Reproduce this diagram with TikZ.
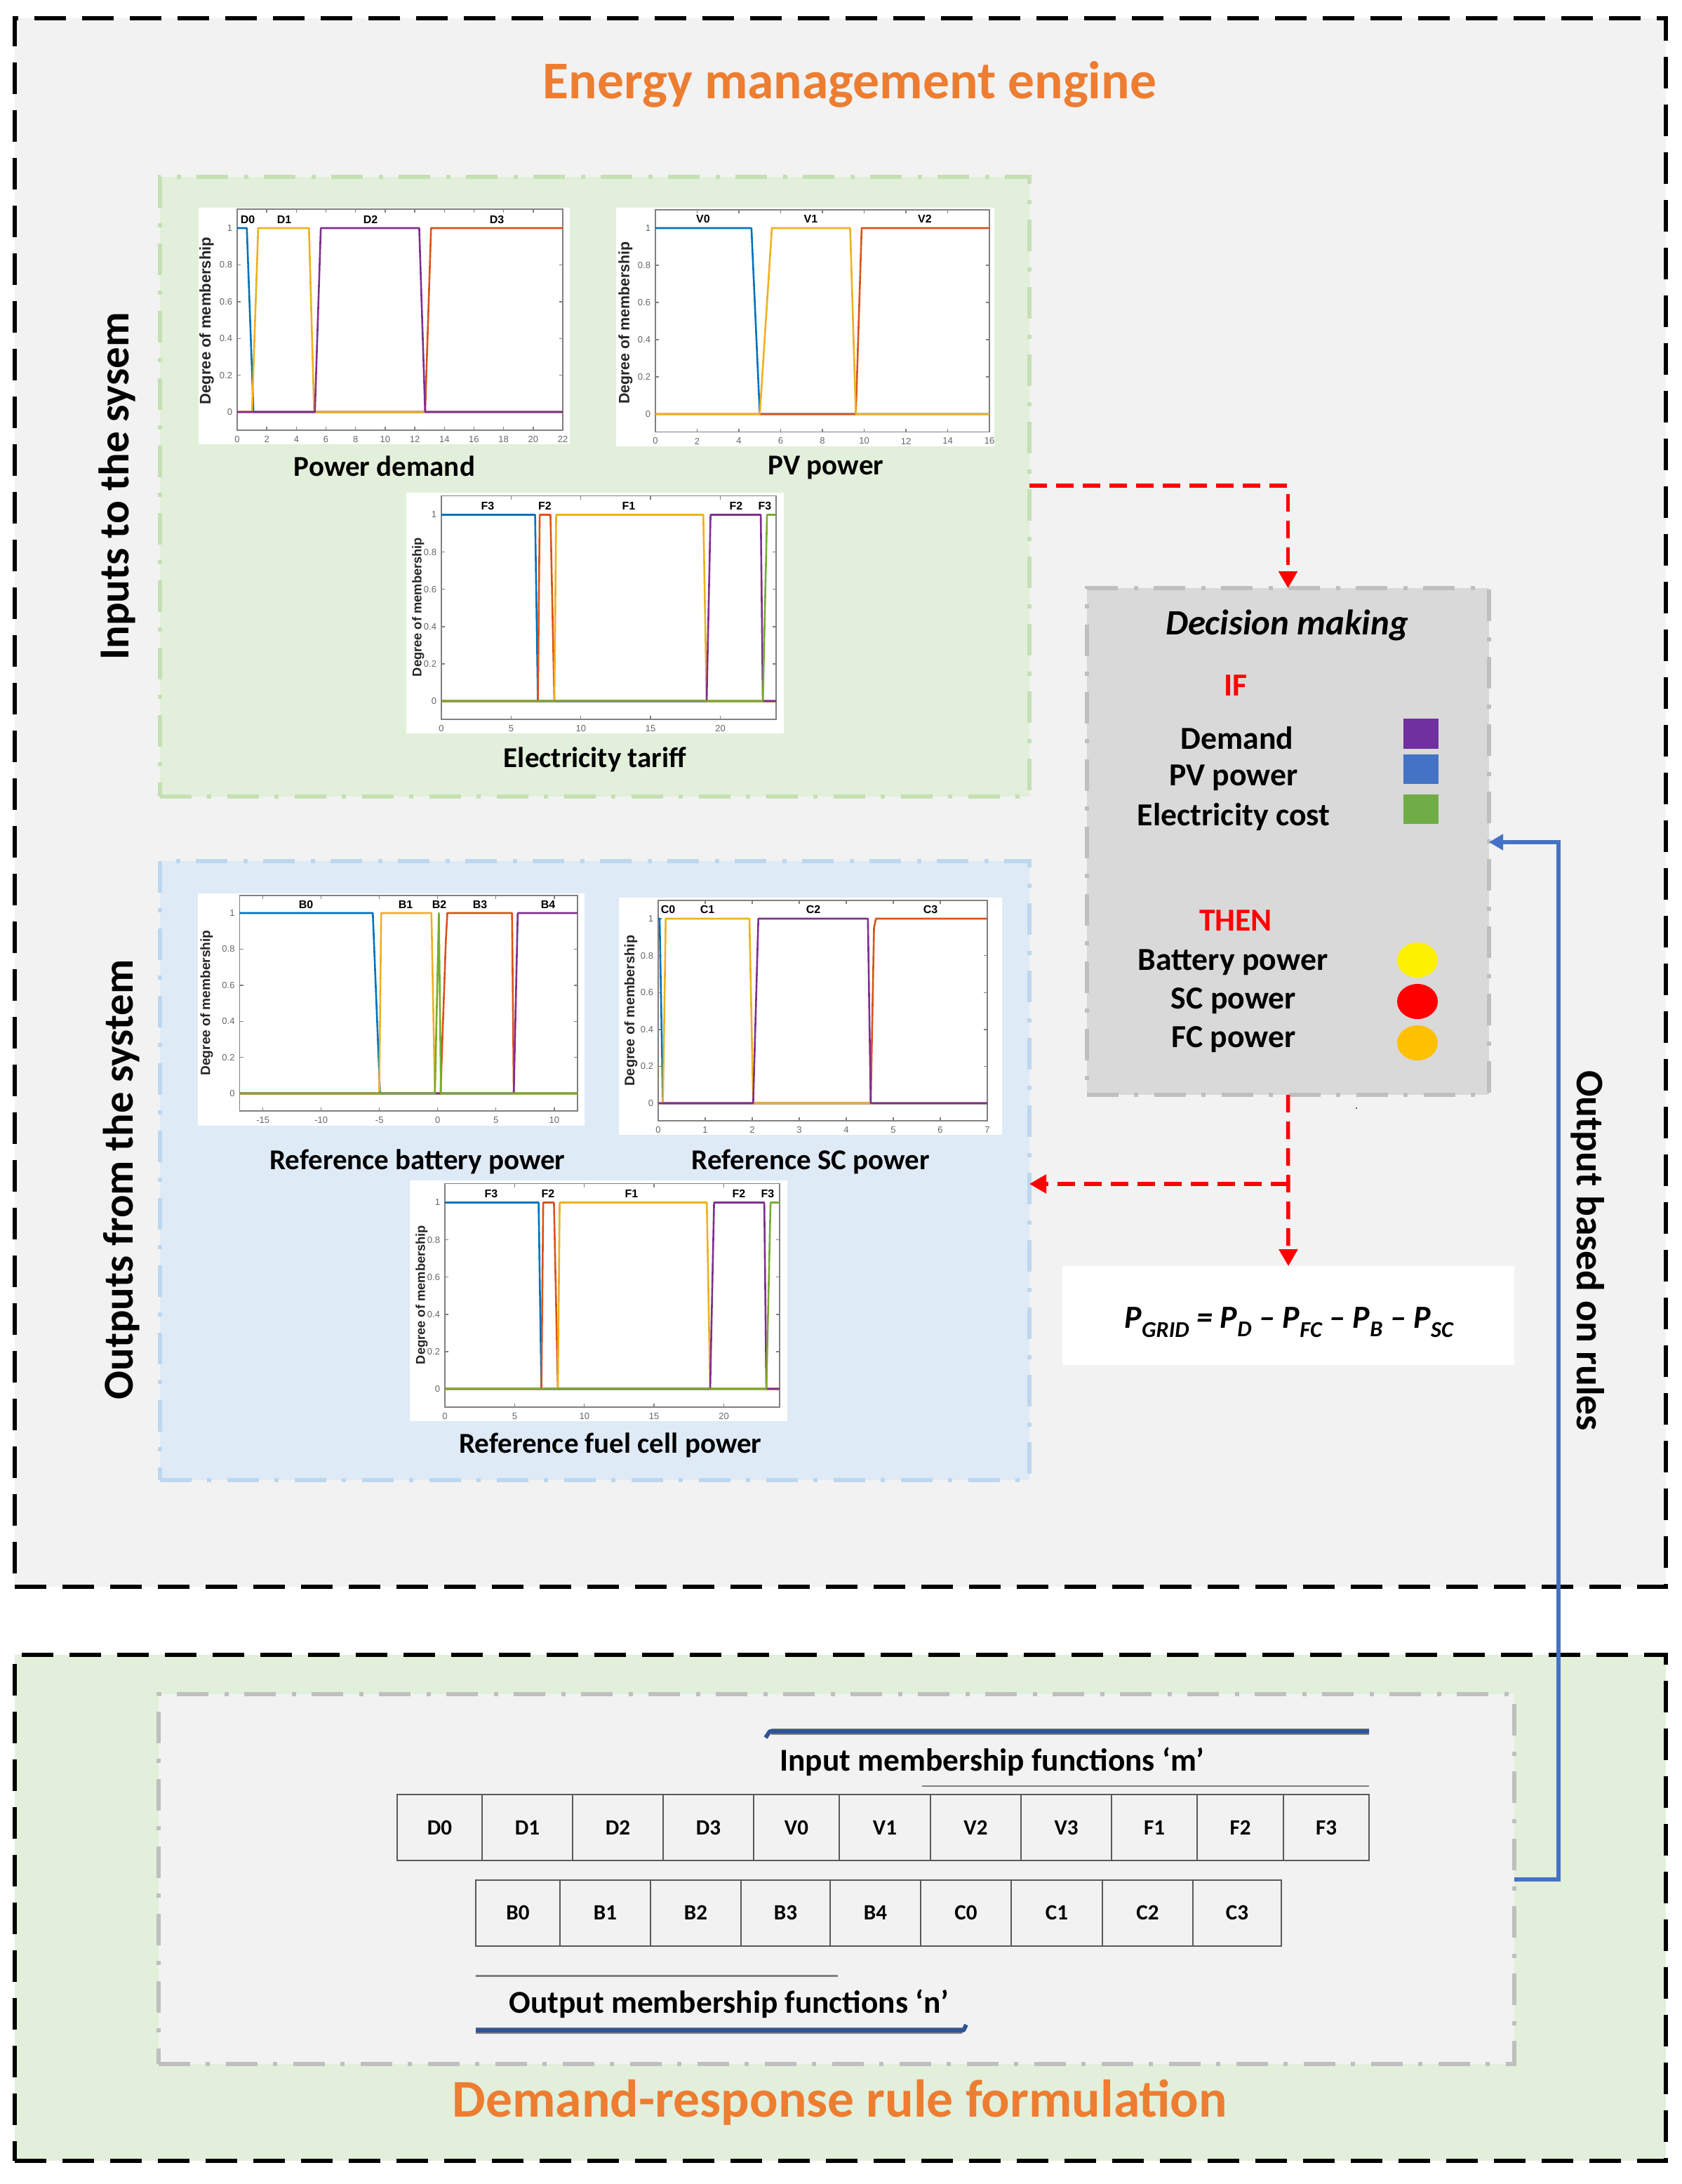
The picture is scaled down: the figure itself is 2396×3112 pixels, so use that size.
\documentclass[tikz,border=0pt]{standalone}
\usepackage{fontspec}
\setmainfont{Carlito}
\newfontfamily\arialf{Liberation Sans}
\usetikzlibrary{arrows.meta,shapes.geometric}
\definecolor{pagegray}{HTML}{F2F2F2}
\definecolor{leafbg}{HTML}{E2EFDA}
\definecolor{skybg}{HTML}{DEEAF6}
\definecolor{leafdash}{HTML}{C5E0B4}
\definecolor{skydash}{HTML}{BDD7EE}
\definecolor{greydash}{HTML}{BFBFBF}
\definecolor{titleorange}{HTML}{ED7D31}
\definecolor{mblue}{HTML}{0072BD}
\definecolor{morange}{HTML}{D95319}
\definecolor{myellow}{HTML}{EDB120}
\definecolor{mpurple}{HTML}{7E2F8E}
\definecolor{mgreen}{HTML}{77AC30}
\definecolor{linkblue}{HTML}{4472C4}
\definecolor{barblue}{HTML}{2F5597}
\definecolor{sqpurple}{HTML}{7030A0}
\definecolor{sqgreen}{HTML}{70AD47}
\definecolor{dotorange}{HTML}{FFC000}
\newcommand\fsz[1]{\fontsize{#1}{#1}\selectfont}
\newcommand\bx[7]{\pgfmathsetmacro\bxcx{(#2+#4)/2}\pgfmathsetmacro\bxcy{(#3+#5)/2}\pgfmathsetmacro\bxw{#4-#2}\pgfmathsetmacro\bxh{#5-#3}\node[inner sep=0,outer sep=0,minimum width=\bxw pt,minimum height=\bxh pt,#6](#1) at (\bxcx,\bxcy) {#7};}
\newcommand\tx[6]{\node[inner sep=0,outer sep=0,font=\fsz{#4}\bfseries,#5](#1) at (#2,#3) {#6};}
% plot frame: X0 X1 Ytop Ybot Y1 Y0 xmin xmax
\newcommand\mfsetup[8]{%
  \pgfmathsetmacro\sx{(#2-#1)/(#8-#7)}%
  \pgfmathsetmacro\ox{#1-\sx*#7}%
  \pgfmathsetmacro\sy{#6-#5}%
  \def\oy{#6}\def\ytop{#3}\def\ybot{#4}\def\xl{#1}\def\xr{#2}%
  \draw[axisline] (#1,#3) rectangle (#2,#4);
  \foreach \v [count=\k] in {0,0.2,0.4,0.6,0.8,1}{
    \pgfmathsetmacro\ty{#6-\v*\sy}
    \draw[axisline] (#1,\ty) -- ++(5,0);
    \draw[axisline] (#2,\ty) -- ++(-5,0);
    \node[ticklab,anchor=east] (yt\k) at (#1-7,\ty) {\v};
  }
}
\newcommand\mfxticks[1]{%
  \foreach \t [count=\k] in {#1}{
    \pgfmathsetmacro\tpx{\ox+\sx*\t}
    \draw[axisline] (\tpx,\ybot) -- ++(0,-5);
    \draw[axisline] (\tpx,\ytop) -- ++(0,5);
    \node[ticklab] (xt\k) at (\tpx,\ybot+13) {\t};
  }
}
\newenvironment{mfcurves}{\begin{scope}[shift={(\ox,\oy)},x=\sx pt,y=\sy pt,line width=2.6pt,line join=round]}{\end{scope}}
\newcommand\ylab[4]{\node[inner sep=0,outer sep=0,rotate=90,font=\arialf\fsz{#3}\bfseries,text=black!85](#4) at (#1,#2) {Degree of membership};}
\newcommand\tariff{%
  \draw[mblue] (0,1)--(6.72,1)--(6.92,0)--(24,0);
  \draw[morange] (0,0)--(6.92,0)--(7.05,1)--(7.82,1)--(8.1,0)--(24,0);
  \draw[myellow] (0,0)--(8.1,0)--(8.23,1)--(18.78,1)--(19.02,0)--(24,0);
  \draw[mpurple] (0,0)--(19.02,0)--(19.3,1)--(22.9,1)--(23.05,0)--(24,0);
  \draw[mgreen] (0,0)--(23.05,0)--(23.35,1)--(24,1);
}
\tikzset{
  axisline/.style={draw=black!50,line width=1.4pt},
  ticklab/.style={inner sep=0,outer sep=0,font=\arialf\fsz{13},text=black!60},
  plotimg/.style={fill=white},
  mflab/.style={font=\arialf\fsz{16}\bfseries,inner sep=0,outer sep=0},
  frame/.style={draw=black,line width=6pt,dash pattern=on 45pt off 23pt},
  dd/.style={line width=6pt,dash pattern=on 45pt off 22pt on 6pt off 23pt},
  redlink/.style={draw=red,line width=5.5pt,dash pattern=on 25pt off 13pt},
  redtip/.style={-{Triangle[width=26pt,length=24pt]}},
  bluelink/.style={draw=linkblue,line width=5.5pt,-{Triangle[width=22pt,length=20pt]}},
  cell/.style={draw=black!65,line width=2pt,fill=pagegray,font=\fsz{31}\bfseries},
}
\begin{document}
\begin{tikzpicture}[x=1pt,y=-1pt]
\useasboundingbox[fill=white] (0,0) rectangle (2396,3112);
% outer frames
\bx{engine}{21}{26}{2374}{2261}{frame,fill=pagegray}{}
\bx{formulation}{21}{2358}{2374}{3079}{frame,fill=leafbg}{}
\tx{enginetitle}{1211}{120}{75.6}{text=titleorange}{Energy management engine}
\tx{formtitle}{1197}{2996}{75.6}{text=titleorange}{Demand-response rule formulation}
\tx{inlabel}{167}{693}{61}{rotate=90}{Inputs to the sysem}
\tx{outlabel}{173}{1681}{60.6}{rotate=90}{Outputs from the system}
% panels
\bx{inputs}{228}{252}{1467}{1135}{dd,draw=leafdash,fill=leafbg}{}
\bx{outputs}{228}{1227}{1467}{2109}{dd,draw=skydash,fill=skybg}{}
\bx{decision}{1549}{838}{2122}{1560}{dd,draw=greydash,fill=black!15}{}
\bx{grid}{1514}{1804}{2158}{1945}{fill=white}{}
\bx{rules}{226}{2414}{2158}{2941}{dd,draw=greydash,fill=pagegray}{}
% plot 1
\bx{img1}{283}{296}{812}{633}{plotimg}{}
\mfsetup{338}{802}{298}{613}{325}{587}{0}{22}
\mfxticks{0,2,4,6,8,10,12,14,16,18,20,22}
\begin{mfcurves}
  \draw[mblue] (0,1)--(0.65,1)--(1.1,0)--(22,0);
  \draw[morange] (0,0)--(12.7,0)--(13.1,1)--(22,1);
  \draw[myellow] (0,0)--(1,0)--(1.42,1)--(4.85,1)--(5.2,0)--(22,0);
  \draw[mpurple] (0,0)--(5.25,0)--(5.65,1)--(12.3,1)--(12.7,0)--(22,0);
\end{mfcurves}
\ylab{294.5}{457}{22}{yl1}
\node[mflab] (d0) at (353,313) {D0};
\node[mflab] (d1) at (405,313) {D1};
\node[mflab] (d2) at (528,313) {D2};
\node[mflab] (d3) at (708,313) {D3};
\tx{cap1}{548}{664}{41}{}{Power demand}
% plot 2
\bx{img2}{878}{296}{1417}{636}{plotimg}{}
\mfsetup{934}{1410}{299}{615.5}{325}{590}{0}{16}
\mfxticks{0,2,4,6,8,10,12,14,16}
\begin{mfcurves}
  \draw[mblue] (0,1)--(4.6,1)--(5,0)--(16,0);
  \draw[morange] (0,0)--(9.6,0)--(9.88,1)--(16,1);
  \draw[myellow] (0,0)--(5,0)--(5.58,1)--(9.33,1)--(9.6,0)--(16,0);
\end{mfcurves}
\ylab{891.5}{460}{21.4}{yl2}
\node[mflab] (v0) at (1002,312) {V0};
\node[mflab] (v1) at (1155.5,312) {V1};
\node[mflab] (v2) at (1318,312) {V2};
\tx{cap2}{1177}{666}{41}{}{PV power}
% plot 3
\bx{img3}{579}{702}{1117}{1045}{plotimg}{}
\mfsetup{629}{1106}{706.5}{1025}{733.5}{999}{0}{24}
\mfxticks{0,5,10,15,20}
\begin{mfcurves}
  \tariff
\end{mfcurves}
\ylab{596}{865}{18.3}{yl3}
\node[mflab] (fa3) at (695,720.6) {F3};
\node[mflab] (fa2) at (776.5,720.6) {F2};
\node[mflab] (fa1) at (896,720.6) {F1};
\node[mflab] (fb2) at (1049,720.6) {F2};
\node[mflab] (fb3) at (1090,720.6) {F3};
\tx{cap3}{848}{1082}{41}{}{Electricity tariff}
% plot 4
\bx{img4}{282}{1273}{833}{1604}{plotimg}{}
\mfsetup{341.5}{823}{1276}{1583}{1301}{1558}{-17}{12}
\mfxticks{-15,-10,-5,0,5,10}
\begin{mfcurves}
  \draw[mblue] (-17,1)--(-5.57,1)--(-4.95,0)--(12,0);
  \draw[morange] (-17,0)--(0.24,0)--(0.7,0.85)--(0.83,1)--(6.38,1)--(6.53,0)--(12,0);
  \draw[myellow] (-17,0)--(-5.02,0)--(-4.85,1)--(-0.54,1)--(-0.24,0)--(12,0);
  \draw[mpurple] (-17,0)--(6.53,0)--(6.87,1)--(12,1);
  \draw[mgreen] (-17,0)--(-0.24,0)--(0.1,1)--(0.28,0)--(12,0);
\end{mfcurves}
\ylab{294.5}{1429}{19.1}{yl4}
\node[mflab] (b0) at (436,1289) {B0};
\node[mflab] (b1) at (578,1289) {B1};
\node[mflab] (b2) at (626,1289) {B2};
\node[mflab] (b3) at (684,1289) {B3};
\node[mflab] (b4) at (781,1289) {B4};
\tx{cap4}{595}{1655}{41}{}{Reference battery power}
% plot 5
\bx{img5}{882}{1279}{1428}{1617}{plotimg}{}
\mfsetup{938}{1407}{1283}{1597}{1309}{1572}{0}{7}
\mfxticks{0,1,2,3,4,5,6,7}
\begin{mfcurves}
  \draw[mblue] (0,1)--(0.03,1)--(0.1,0)--(7,0);
  \draw[morange] (0,0)--(4.52,0)--(4.59,0.95)--(4.63,1)--(7,1);
  \draw[myellow] (0,0)--(0.1,0)--(0.16,1)--(1.94,1)--(2.02,0)--(7,0);
  \draw[mpurple] (0,0)--(2.02,0)--(2.13,1)--(4.46,1)--(4.52,0)--(7,0);
\end{mfcurves}
\ylab{899}{1440}{19.8}{yl5}
\node[mflab] (c0) at (952,1296) {C0};
\node[mflab] (c1) at (1008,1296) {C1};
\node[mflab] (c2) at (1159,1296) {C2};
\node[mflab] (c3) at (1326,1296) {C3};
\tx{cap5}{1155.5}{1655}{41}{}{Reference SC power}
% plot 6
\bx{img6}{584}{1682}{1121.5}{2025}{plotimg}{}
\mfsetup{634}{1111}{1686.5}{2005}{1713.5}{1979}{0}{24}
\mfxticks{0,5,10,15,20}
\begin{mfcurves}
  \tariff
\end{mfcurves}
\ylab{601}{1845}{18.3}{yl6}
\node[mflab] (ga3) at (700,1700.6) {F3};
\node[mflab] (ga2) at (781,1700.6) {F2};
\node[mflab] (ga1) at (900,1700.6) {F1};
\node[mflab] (gb2) at (1053,1700.6) {F2};
\node[mflab] (gb3) at (1094,1700.6) {F3};
\tx{cap6}{870}{2059}{41}{}{Reference fuel cell power}
% decision box content
\tx{dmtitle}{1834}{891}{50.8}{font=\fsz{50.8}\bfseries\itshape}{Decision making}
\tx{iflab}{1761}{977}{45.7}{text=red}{IF}
\tx{dem}{1763}{1052}{45.7}{}{Demand}
\tx{pvp}{1758}{1108}{45.7}{}{PV power}
\tx{elc}{1758}{1164}{45.7}{}{Electricity cost}
\bx{sqa}{2000}{1024}{2050}{1067}{fill=sqpurple}{}
\bx{sqb}{2000}{1075}{2050}{1117}{fill=linkblue}{}
\bx{sqc}{2000}{1132}{2050}{1174}{fill=sqgreen}{}
\tx{thenlab}{1761}{1312}{45.7}{text=red}{THEN}
\tx{bat}{1757}{1371}{45.7}{}{Battery power}
\tx{scp}{1758}{1426}{45.7}{}{SC power}
\tx{fcp}{1758}{1481}{45.7}{}{FC power}
\node[ellipse,fill=yellow,minimum width=58pt,minimum height=50pt,inner sep=0] (ea) at (2020,1368) {};
\node[ellipse,fill=red,minimum width=58pt,minimum height=50pt,inner sep=0] (eb) at (2020,1427) {};
\node[ellipse,fill=dotorange,minimum width=58pt,minimum height=50pt,inner sep=0] (ec) at (2020,1486) {};
\fill (1933,1579) circle (1pt);
% formula
\tx{formula}{1837}{1884}{46}{font=\fsz{46}\bfseries\itshape}{P\textsubscript{GRID} = P\textsubscript{D} – P\textsubscript{FC} – P\textsubscript{B} – P\textsubscript{SC}}
% connectors
\coordinate (redtop) at (1467,692);
\coordinate (junction) at (1836,1687);
\coordinate (blstart) at (2158,2678);
\coordinate (blturn) at (2221,2678);
\coordinate (blend) at (2122,1200);
\draw[redlink,redtip] (inputs.east |- redtop) -| (decision.north);
\draw[redlink,redtip] (decision.south) -- (grid.north);
\draw[redlink,redtip] (junction) -- (outputs.east |- junction);
\draw[bluelink] (rules.east |- blstart) -- (blturn) |- (decision.east |- blend);
\tx{outrules}{2263}{1782}{55.6}{rotate=-90}{Output based on rules}
% rule formulation
\draw[draw=black!50,line width=9pt] (1951,2467) -- (1099,2467);
\draw[draw=barblue,line width=6pt,line join=round] (1951,2467) -- (1097,2467) -- (1091,2476);
\tx{inmf}{1414}{2510}{45.4}{}{Input membership functions ‘m’}
\draw[draw=black!50,line width=2.5pt] (1313.5,2545) -- (1951,2545);
\foreach \a/\b/\c [count=\k] in {566/687/D0,687/816/D1,816/945/D2,945/1074/D3,1074/1196/V0,1196/1326/V1,1326/1455/V2,1455/1584/V3,1584/1706/F1,1706/1829/F2,1829/1951/F3}{
  \bx{ra\k}{\a}{2557}{\b}{2651}{cell}{\c}
}
\foreach \a/\b/\c [count=\k] in {678/798/B0,798/927/B1,927/1056/B2,1056/1183/B3,1183/1312/B4,1312/1441/C0,1441/1571/C1,1571/1700/C2,1700/1826/C3}{
  \bx{rb\k}{\a}{2678.5}{\b}{2773}{cell}{\c}
}
\draw[draw=black!50,line width=2.5pt] (678,2815.5) -- (1194,2815.5);
\tx{outmf}{1039}{2855}{45.4}{}{Output membership functions ‘n’}
\draw[draw=black!50,line width=9pt] (678,2893) -- (1371,2893);
\draw[draw=barblue,line width=6pt,line join=round] (678,2893) -- (1373,2893) -- (1377,2885);
\end{tikzpicture}
\end{document}
